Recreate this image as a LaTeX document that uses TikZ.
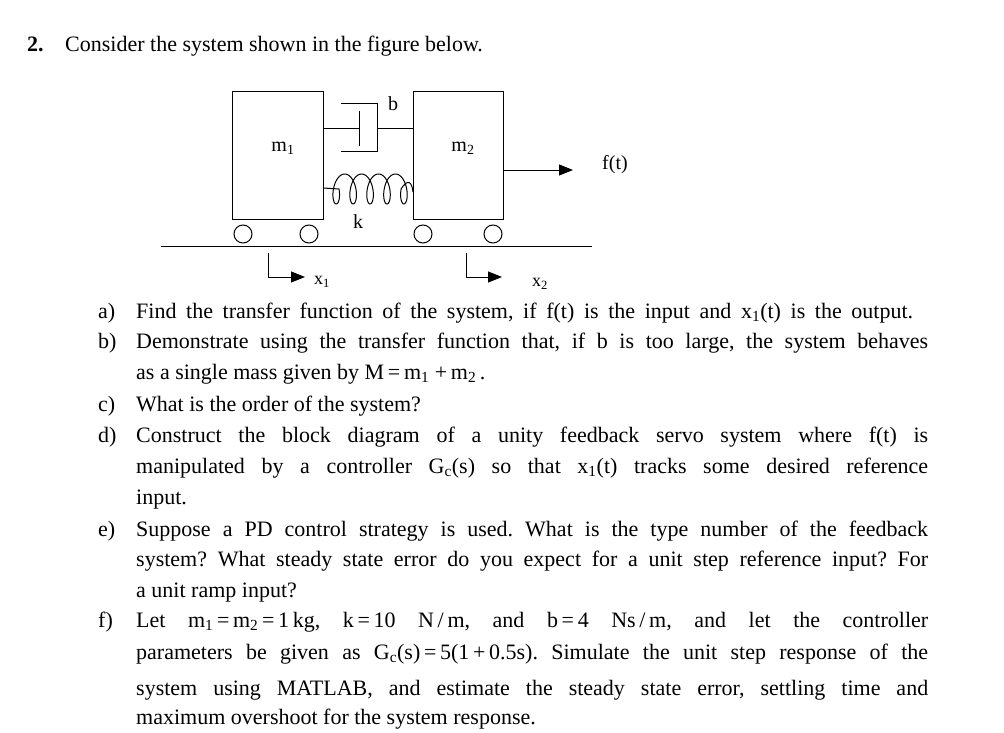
\documentclass[tikz,border=0pt]{standalone}
\usepackage{fontspec}
\setmainfont{Liberation Serif}
\usetikzlibrary{arrows.meta}
\newcommand{\jl}[2]{\hbox to #1pt{#2}}
\newcommand{\sub}[1]{\textsubscript{#1}}
\begin{document}
\frenchspacing
\begin{tikzpicture}[x=1pt,y=-1pt,
  txt/.style={anchor=base west,inner sep=0pt,font=\fontsize{22}{24}\selectfont},
  lbl/.style={inner sep=0pt,font=\fontsize{20}{22}\selectfont},
  mass/.style={draw,line width=1pt},
  wheel/.style={draw,line width=1pt,circle,minimum size=18pt,inner sep=0pt},
  ln/.style={line width=1pt},
  arr/.style={line width=1pt,-{Triangle[length=14pt,width=11pt]}}]
\useasboundingbox (0,0) rectangle (1004,733);
% masses
\node[mass,minimum width=91pt,minimum height=127pt,inner sep=0pt] (m1) at (277.5,155.5) {};
\node[mass,minimum width=90pt,minimum height=127pt,inner sep=0pt] (m2) at (458,155.5) {};
\node[lbl] (lm1) at (283,148) {m\sub{1}};
\node[lbl] (lm2) at (463,148) {m\sub{2}};
% damper
\coordinate (d1) at (323,129); \coordinate (pist) at (359,129);
\coordinate (cy) at (377,129); \coordinate (d2) at (413,129);
\draw[ln] (d1) -- (pist);
\draw[ln] (359,111) -- (359,146);
\draw[ln] (341,104) -- (377,104) -- (377,152) -- (341,152);
\draw[ln] (cy) -- (d2);
\node[lbl] (lb) at (393,104) {b};
% spring
\coordinate (s1) at (323,188); \coordinate (s2) at (413,192);
\draw[ln,smooth] (s1) -- plot[domain=-90:1530,samples=240,variable=\t] ({332+0.047*(\t+90)-7*sin(\t)},{189+15*cos(\t)});
\draw[ln] (401,189) .. controls (408,178) and (412,182) .. (s2);
\node[lbl] (lk) at (358,222) {k};
% force
\coordinate (fa) at (503,170); \coordinate (fb) at (573,170);
\draw[arr] (fa) -- (fb);
\node[lbl] (lf) at (615,165) {f(t)};
% wheels and ground
\node[wheel] (w1) at (243,234) {};
\node[wheel] (w2) at (309,234) {};
\node[wheel] (w3) at (423,234) {};
\node[wheel] (w4) at (493,234) {};
\coordinate (g1) at (161,246); \coordinate (g2) at (592,246);
\draw[ln] (g1) -- (g2);
% displacements
\draw[arr] (268,253) -- (268,277) -- (305,277);
\draw[arr] (466,253) -- (466,277) -- (502,277);
\node[lbl,font=\fontsize{18}{20}\selectfont] (x1) at (322,282) {x\sub{1}};
\node[lbl,font=\fontsize{18}{20}\selectfont] (x2) at (540,284) {x\sub{2}};
% text
\node[txt] (h0) at (27,52) {\textbf{2.}};
\node[txt] (h1) at (65,52) {Consider the system shown in the figure below.};
\node[txt] (a0) at (98,318) {a)};
\node[txt] (a1) at (136,318) {\jl{777}{Find the transfer function of the system, if f(t) is the input and x\sub{1}(t) is the output.}};
\node[txt] (b0) at (98,348) {b)};
\node[txt] (b1) at (136,348) {\jl{792}{Demonstrate using the transfer function that, if b is too large, the system behaves}};
\node[txt] (b2) at (136,379) {as a single mass given by M\,=\,m\sub{1} +\,m\sub{2}\,.};
\node[txt] (c0) at (98,411) {c)};
\node[txt] (c1) at (136,411) {What is the order of the system?};
\node[txt] (d0) at (98,442) {d)};
\node[txt] (d1t) at (136,442) {\jl{792}{Construct the block diagram of a unity feedback servo system where f(t) is}};
\node[txt] (d2t) at (136,473) {\jl{792}{manipulated by a controller G\sub{c}(s) so that x\sub{1}(t) tracks some desired reference}};
\node[txt] (d3t) at (136,504) {input.};
\node[txt] (e0) at (98,536) {e)};
\node[txt] (e1) at (136,536) {\jl{792}{Suppose a PD control strategy is used. What is the type number of the feedback}};
\node[txt] (e2) at (136,566) {\jl{792}{system? What steady state error do you expect for a unit step reference input? For}};
\node[txt] (e3) at (136,597) {a unit ramp input?};
\node[txt] (f0) at (98,627) {f)};
\node[txt] (f1) at (136,627) {\jl{792}{Let m\sub{1}\,=\,m\sub{2}\,=\,1\,kg, k\,=\,10 N\,/\,m, and b\,=\,4 Ns\,/\,m, and let the controller}};
\node[txt] (f2) at (136,659) {\jl{792}{parameters be given as G\sub{c}(s)\,=\,5(1\,+\,0.5s). Simulate the unit step response of the}};
\node[txt] (f3) at (136,695) {\jl{792}{system using MATLAB, and estimate the steady state error, settling time and}};
\node[txt] (f4) at (136,724) {maximum overshoot for the system response.};
\end{tikzpicture}
\end{document}
